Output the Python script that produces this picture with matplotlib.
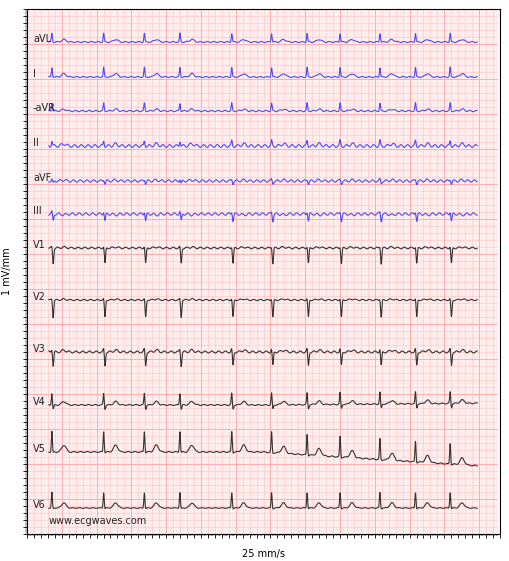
import numpy as np
import matplotlib
matplotlib.use("Agg")
import matplotlib.pyplot as plt

leads = ["aVL", "I", "-aVR", "II", "aVF", "III", "V1", "V2", "V3", "V4", "V5", "V6"]
baseline_px = [42, 77, 111, 146, 181, 214, 248, 300, 352, 405, 452, 508]
beat_times = [0.07, 1.28, 2.23, 3.06, 4.27, 5.20, 6.03, 6.80, 7.73, 8.56, 9.37]
r_amp = [0.50, 0.55, 0.45, 0.30, 0.10, 0.15, 0.10, 0.10, 0.20, 0.70, 1.20, 0.90]
s_amp = [0.00, 0.00, 0.00, 0.00, -0.15, -0.40, -0.90, -1.00, -0.80, -0.25, -0.05, -0.05]
t_amp = [0.15, 0.20, 0.10, 0.12, 0.05, -0.05, 0.05, 0.05, 0.10, 0.20, 0.40, 0.30]
f_amp = [0.03, 0.03, 0.04, 0.08, 0.07, 0.07, 0.05, 0.04, 0.06, 0.03, 0.03, 0.02]
drift_end = [0, 0, 0, 0, 0, 0, 0, 0, 0, 0.1, -0.8, 0]
colors = ["#4a4aff"] * 6 + ["#333333"] * 6

PXY = 17.2
PXX = 43.1
t = np.linspace(0, 10, 3000)

fig = plt.figure(figsize=(5.10, 5.61), dpi=100)
ax = fig.add_axes([27/510, 1-534/561, 473/510, 525/561])
x0, x1 = -22/PXX, 451/PXX
y0, y1 = -525/PXY, 0
ax.set_xlim(x0, x1)
ax.set_ylim(y0, y1)
ax.set_facecolor("#fff7f7")

dx_med, dy_med = 7/PXX, 7/PXY
xs = x0 + np.arange(0, 473/7 + 1) * dx_med
ys = y1 - np.arange(0, 525/7 + 1) * dy_med
xf = x0 + np.arange(0, 473/1.4 + 1) * dx_med / 5
yf = y1 - np.arange(0, 525/1.4 + 1) * dy_med / 5
ax.vlines(xf, y0, y1, color="#ffe6e6", lw=0.3, zorder=0)
ax.hlines(yf, x0, x1, color="#ffe6e6", lw=0.3, zorder=0)
ax.vlines(xs, y0, y1, color="#ffcaca", lw=0.5, zorder=0)
ax.hlines(ys, x0, x1, color="#ffcaca", lw=0.5, zorder=0)
ax.vlines(xs[::5], y0, y1, color="#ffa8a8", lw=0.6, zorder=0)
ax.hlines(ys[::5], x0, x1, color="#ffa8a8", lw=0.6, zorder=0)

def g(x, mu, s):
    return np.exp(-0.5 * ((x - mu) / s) ** 2)

for i, name in enumerate(leads):
    base = -(baseline_px[i] - 9) / PXY
    y = f_amp[i] * np.sin(2 * np.pi * 6.3 * t + i)
    for bt in beat_times:
        y += r_amp[i] * g(t, bt, 0.012)
        y += s_amp[i] * g(t, bt + 0.03, 0.014)
        y += t_amp[i] * g(t, bt + 0.28, 0.05)
    y += drift_end[i] * np.clip((t - 5) / 5, 0, 1)
    ax.plot(t, base + y, color=colors[i], lw=0.8, zorder=2)
    ax.text(-0.37, base + 0.17, name, fontsize=7, color="#222222", va="center", zorder=3)

ax.text(0.0, -(521 - 9) / PXY, "www.ecgwaves.com", fontsize=7, color="#222222", va="center")

ax.set_xticks(xs)
ax.set_xticks(xf, minor=True)
ax.set_yticks(ys)
ax.set_yticks(yf, minor=True)
ax.set_xticklabels([])
ax.set_yticklabels([])
ax.tick_params(which="major", length=3, width=0.6)
ax.tick_params(which="minor", length=1.2, width=0.3)
ax.set_xlabel("25 mm/s", fontsize=7)
ax.set_ylabel("1 mV/mm", fontsize=7)
for s in ax.spines.values():
    s.set_linewidth(0.8)
fig.savefig("out.png", dpi=100)
